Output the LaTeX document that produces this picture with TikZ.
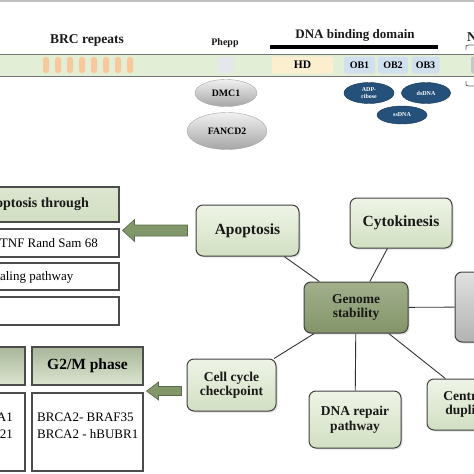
\documentclass[tikz,border=0pt]{standalone}
\usepackage{fontspec}
\setmainfont{Liberation Serif}
\usepackage{tikz}
\usetikzlibrary{shapes.geometric,positioning,shadows}
\definecolor{barfill}{HTML}{E2EED5}
\definecolor{brcorange}{HTML}{F8C89A}
\definecolor{obblue}{HTML}{D0E0EF}
\definecolor{hdyellow}{HTML}{FCEFCF}
\definecolor{navyell}{HTML}{24507A}
\definecolor{leafA}{HTML}{EEF4E6}
\definecolor{leafB}{HTML}{D2DFC2}
\definecolor{oliveA}{HTML}{A2B08C}
\definecolor{oliveB}{HTML}{839469}
\definecolor{arrowgreen}{HTML}{819769}
\definecolor{headA}{HTML}{A9B69A}
\definecolor{headB}{HTML}{DCE5D0}
\begin{document}
\begin{tikzpicture}[x=1pt,y=-1pt,
	hub/.style={draw=black!75,line width=1pt,rounded corners=7pt,top color=leafA,bottom color=leafB,
		align=center,text=black!90,inner sep=0pt,font=\bfseries\fontsize{13.5}{14}\selectfont,
		drop shadow={opacity=0.25,shadow xshift=1.5pt,shadow yshift=-1.5pt}},
	bighub/.style={hub,font=\bfseries\fontsize{15.5}{17}\selectfont},
	link/.style={draw=black!80,line width=0.9pt},
	blockarrow/.style={fill=arrowgreen,draw=arrowgreen!70!black,line width=0.6pt},
	pbox/.style={draw=black!70,line width=1.2pt,fill=white,inner sep=0pt},
	phead/.style={pbox,top color=headB,bottom color=leafB},
	gphead/.style={pbox,top color=headA,bottom color=headB},
	ptext/.style={inner sep=0pt,font=\fontsize{13}{17}\selectfont},
	dombox/.style={rounded corners=2.5pt,inner sep=0pt,font=\bfseries\fontsize{10}{11}\selectfont},
	grayell/.style={ellipse,inner sep=0pt,draw=black!35,top color=black!6,bottom color=black!35,
		font=\bfseries\fontsize{9.8}{10}\selectfont},
	blueell/.style={ellipse,inner sep=0pt,fill=navyell,draw=navyell!70!black,text=white,
		align=center,font=\bfseries\fontsize{6}{6.5}\selectfont},
	toplabel/.style={inner sep=0pt,text=black!90,font=\bfseries\fontsize{13.5}{14}\selectfont}
	]
	\useasboundingbox (0,0) rectangle (474,474);
	\clip (0,0) rectangle (474,474);
	\fill[black!25] (0,0) rectangle (474,2);

	\fill[barfill] (-5,54) rectangle (480,76);
	\draw[black!55,line width=1pt] (-5,54) -- (480,54);
	\draw[black!55,line width=1pt] (-5,76) -- (480,76);
	\foreach \i in {0,...,7}
		\fill[brcorange,rounded corners=2.5pt] (43+12*\i,57) rectangle (49+12*\i,73);
	\node[toplabel] (brc) at (87,40) {BRC repeats};
	\node[dombox,fill=obblue!80!black!30,minimum width=16,minimum height=16] (phbox) at (226,65) {};
	\node[toplabel,font=\bfseries\fontsize{10}{11}\selectfont] (phepp) at (225,43) {Phepp};
	\node[toplabel,font=\bfseries\fontsize{13}{14}\selectfont] (dbd) at (355,35) {DNA binding domain};
	\draw[line width=4pt] (270,47) -- (438,47);
	\node[dombox,fill=hdyellow,minimum width=61,minimum height=17,font=\bfseries\fontsize{11.5}{12}\selectfont] (hd) at (302.5,65) {HD};
	\node[dombox,fill=obblue,minimum width=31,minimum height=17] (ob1) at (359.5,65) {OB1};
	\node[dombox,fill=obblue,minimum width=30,minimum height=17] (ob2) at (393,65) {OB2};
	\node[dombox,fill=obblue,minimum width=28,minimum height=17] (ob3) at (425.5,65) {OB3};
	\node[dombox,fill=black!22,minimum width=12,minimum height=17] (nlsbox) at (477,65) {};
	\node[toplabel,anchor=west] (nls) at (467,37) {NLS};
	\draw[black!60,line width=0.8pt] (474,45) -- (469,45) .. controls (466,45) .. (466,50);
	\draw[black!60,line width=0.8pt] (466,81) .. controls (466,86) .. (469,86) -- (474,86);

	\node[grayell,minimum width=62,minimum height=27] (dmc) at (226,93) {DMC1};
	\node[grayell,minimum width=80,minimum height=37] (fancd) at (227,131) {FANCD2};
	\node[blueell,minimum width=50,minimum height=21] (adp) at (369,93) {ADP-\\ribose};
	\node[blueell,minimum width=49,minimum height=21] (ds) at (426,93) {dsDNA};
	\node[blueell,minimum width=50,minimum height=18] (ss) at (402,115) {ssDNA};

	\node[hub,top color=oliveA,bottom color=oliveB,minimum width=104,minimum height=51] (gen) at (356,307.5) {Genome\\stability};
	\node[bighub,minimum width=103,minimum height=51] (apop) at (247.5,230.5) {Apoptosis};
	\node[bighub,minimum width=102,minimum height=50] (cyto) at (401,223) {Cytokinesis};
	\node[hub,top color=black!12,bottom color=black!30,minimum width=90,minimum height=70] (side) at (500,307) {};
	\node[hub,minimum width=89,minimum height=52] (cell) at (231.5,385) {Cell cycle\\checkpoint};
	\node[hub,font=\bfseries\fontsize{13.5}{15}\selectfont,minimum width=92,minimum height=57] (repair) at (355,419.5) {DNA repair\\pathway};
	\node[hub,minimum width=102,minimum height=51] (centro) at (478,404.5) {Centrosome\\duplication};
	\draw[link] (apop) -- (gen);
	\draw[link] (cyto) -- (gen);
	\draw[link] (gen) -- (side);
	\draw[link] (gen) -- (cell);
	\draw[link] (gen) -- (repair);
	\draw[link] (gen) -- (centro);

	\node[phead,minimum width=167,minimum height=35] (aphead) at (35.5,204.5) {};
	\node[toplabel,anchor=east,font=\bfseries\fontsize{14}{15}\selectfont] (aptitle) at (89,204.5) {Apoptosis through};
	\node[pbox,minimum width=167,minimum height=28] (tnf) at (35.5,243) {};
	\node[ptext,anchor=east] (tnftxt) at (98,243) {TNF Rand Sam 68};
	\node[pbox,minimum width=167,minimum height=27] (signal) at (35.5,276.5) {};
	\node[ptext,anchor=east] (signaltxt) at (73.5,277) {signaling pathway};
	\node[pbox,minimum width=167,minimum height=28] (extra) at (35.5,311) {};
	\draw[blockarrow] (apop.west) ++(-8,-5.5) -- ++(-53,0) -- ++(0,-5.5) -- ++(-12,11) -- ++(12,11) -- ++(0,-5.5) -- ++(53,0) -- cycle;

	\node[gphead,minimum width=85,minimum height=38] (lhead) at (-17.5,366) {};
	\node[gphead,minimum width=111,minimum height=38,font=\bfseries\fontsize{15.5}{17}\selectfont] (g2head) at (87.5,366) {G2/M phase};
	\node[pbox,minimum width=85,minimum height=78] (lbody) at (-17.5,432) {};
	\node[ptext,anchor=north east,align=right] (ltxt) at (13,413) {BRCA1\\p21};
	\node[pbox,minimum width=111,minimum height=78] (g2body) at (87.5,432) {};
	\node[ptext,anchor=north west,align=left] (g2txt) at (37,413) {BRCA2- BRAF35\\BRCA2 - hBUBR1};
	\draw[blockarrow] (cell.west) ++(-5,1.5) -- ++(-23,0) -- ++(0,-4.5) -- ++(-12,9) -- ++(12,9) -- ++(0,-4.5) -- ++(23,0) -- cycle;
\end{tikzpicture}
\end{document}
